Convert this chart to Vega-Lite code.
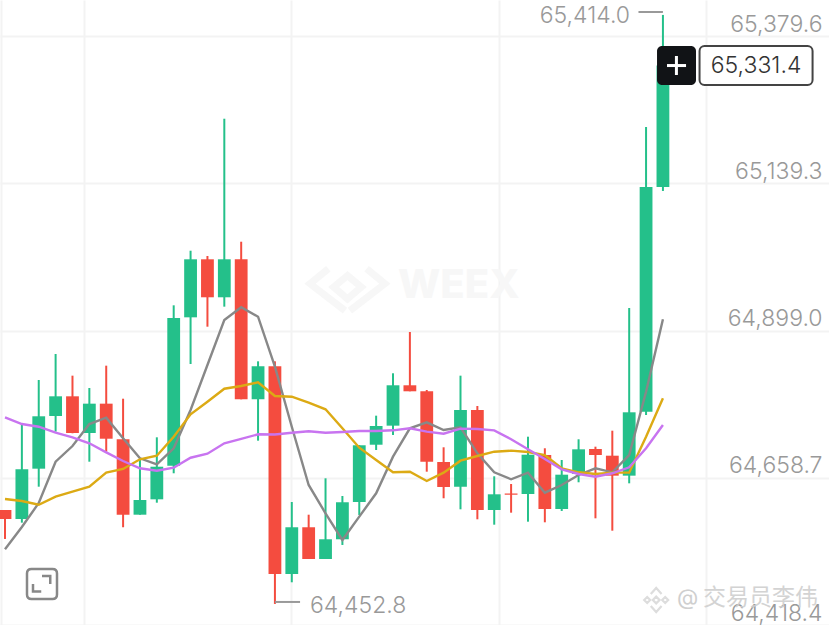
{"$schema":"https://vega.github.io/schema/vega-lite/v6.json","width":829,"height":625,"autosize":{"type":"none"},"padding":0,"background":"#ffffff","config":{"view":{"stroke":null}},
"resolve":{"axis":{"y":"independent"}},
"data":{"values":[
{"i":0,"side":"down","open":64606.1,"high":64606.1,"low":64558.8,"close":64591.4,"ma5":64541.9,"ma10":64624.0,"ma30":64757.4},
{"i":1,"side":"up","open":64591.4,"high":64746.4,"low":64585.4,"close":64672.5,"ma5":64578.3,"ma10":64620.8,"ma30":64746.4},
{"i":2,"side":"up","open":64673.5,"high":64818.2,"low":64644.1,"close":64759.0,"ma5":64617.5,"ma10":64614.7,"ma30":64742.0},
{"i":3,"side":"up","open":64759.5,"high":64860.7,"low":64733.9,"close":64791.6,"ma5":64684.9,"ma10":64627.8,"ma30":64732.2},
{"i":4,"side":"down","open":64791.6,"high":64825.3,"low":64731.3,"close":64731.7,"ma5":64710.5,"ma10":64635.9,"ma30":64724.7},
{"i":5,"side":"up","open":64731.7,"high":64805.2,"low":64684.9,"close":64779.6,"ma5":64746.4,"ma10":64644.1,"ma30":64714.9},
{"i":6,"side":"down","open":64779.6,"high":64841.6,"low":64701.2,"close":64722.4,"ma5":64756.7,"ma10":64667.0,"ma30":64700.2},
{"i":7,"side":"down","open":64721.5,"high":64787.7,"low":64577.9,"close":64598.4,"ma5":64723.1,"ma10":64673.0,"ma30":64686.0},
{"i":8,"side":"up","open":64598.4,"high":64687.7,"low":64598.4,"close":64622.4,"ma5":64690.5,"ma10":64688.8,"ma30":64674.1},
{"i":9,"side":"up","open":64623.5,"high":64724.7,"low":64618.0,"close":64676.7,"ma5":64680.7,"ma10":64694.7,"ma30":64670.2},
{"i":10,"side":"up","open":64678.4,"high":64940.1,"low":64666.0,"close":64919.4,"ma5":64706.8,"ma10":64725.7,"ma30":64675.1},
{"i":11,"side":"up","open":64920.5,"high":65029.2,"low":64844.3,"close":65015.2,"ma5":64769.3,"ma10":64762.3,"ma30":64691.4},
{"i":12,"side":"down","open":65015.2,"high":65020.6,"low":64905.2,"close":64953.2,"ma5":64842.7,"ma10":64782.8,"ma30":64698.0},
{"i":13,"side":"up","open":64953.2,"high":65244.6,"low":64937.9,"close":65015.2,"ma5":64916.1,"ma10":64804.0,"ma30":64714.9},
{"i":14,"side":"down","open":65015.2,"high":65043.9,"low":64786.7,"close":64786.7,"ma5":64936.9,"ma10":64808.4,"ma30":64722.0},
{"i":15,"side":"up","open":64786.7,"high":64848.7,"low":64719.2,"close":64840.6,"ma5":64921.5,"ma10":64814.5,"ma30":64729.6},
{"i":16,"side":"down","open":64840.6,"high":64848.7,"low":64452.8,"close":64501.6,"ma5":64839.9,"ma10":64792.1,"ma30":64729.3},
{"i":17,"side":"up","open":64501.6,"high":64619.1,"low":64488.1,"close":64577.9,"ma5":64742.0,"ma10":64791.0,"ma30":64732.2},
{"i":18,"side":"down","open":64577.9,"high":64598.4,"low":64526.1,"close":64526.1,"ma5":64646.9,"ma10":64781.2,"ma30":64734.5},
{"i":19,"side":"up","open":64526.1,"high":64657.8,"low":64526.1,"close":64558.3,"ma5":64600.7,"ma10":64770.4,"ma30":64732.2},
{"i":20,"side":"up","open":64558.3,"high":64628.9,"low":64549.0,"close":64618.7,"ma5":64557.1,"ma10":64739.4,"ma30":64733.4},
{"i":21,"side":"up","open":64619.1,"high":64711.7,"low":64597.9,"close":64711.7,"ma5":64595.2,"ma10":64707.7,"ma30":64735.0},
{"i":22,"side":"up","open":64712.6,"high":64760.0,"low":64704.0,"close":64743.2,"ma5":64633.3,"ma10":64687.7,"ma30":64735.0},
{"i":23,"side":"up","open":64743.7,"high":64829.2,"low":64728.5,"close":64809.6,"ma5":64693.1,"ma10":64667.6,"ma30":64736.1},
{"i":24,"side":"down","open":64809.6,"high":64896.6,"low":64799.8,"close":64799.8,"ma5":64739.4,"ma10":64668.6,"ma30":64739.4},
{"i":25,"side":"down","open":64799.8,"high":64801.9,"low":64668.6,"close":64684.9,"ma5":64749.2,"ma10":64653.4,"ma30":64733.9},
{"i":26,"side":"down","open":64684.4,"high":64708.4,"low":64625.2,"close":64643.6,"ma5":64736.6,"ma10":64667.0,"ma30":64730.6},
{"i":27,"side":"up","open":64644.1,"high":64825.3,"low":64607.2,"close":64769.3,"ma5":64741.0,"ma10":64686.5,"ma30":64738.8},
{"i":28,"side":"down","open":64769.3,"high":64775.8,"low":64590.9,"close":64606.1,"ma5":64698.6,"ma10":64694.2,"ma30":64738.3},
{"i":29,"side":"up","open":64606.1,"high":64661.1,"low":64582.1,"close":64631.7,"ma5":64667.6,"ma10":64701.2,"ma30":64736.1},
{"i":30,"side":"down","open":64633.0,"high":64648.5,"low":64601.7,"close":64631.0,"ma5":64656.2,"ma10":64702.9,"ma30":64721.5},
{"i":31,"side":"up","open":64632.2,"high":64725.7,"low":64587.0,"close":64696.3,"ma5":64667.0,"ma10":64700.7,"ma30":64705.1},
{"i":32,"side":"down","open":64695.8,"high":64706.8,"low":64586.0,"close":64607.7,"ma5":64634.3,"ma10":64695.8,"ma30":64689.3},
{"i":33,"side":"up","open":64607.7,"high":64687.7,"low":64604.5,"close":64663.7,"ma5":64646.9,"ma10":64674.1,"ma30":64672.5},
{"i":34,"side":"up","open":64664.8,"high":64721.5,"low":64651.3,"close":64705.1,"ma5":64663.2,"ma10":64667.6,"ma30":64664.8},
{"i":35,"side":"down","open":64705.6,"high":64709.4,"low":64592.5,"close":64695.8,"ma5":64674.1,"ma10":64664.8,"ma30":64660.4},
{"i":36,"side":"down","open":64694.7,"high":64735.5,"low":64572.3,"close":64662.1,"ma5":64667.6,"ma10":64667.0,"ma30":64666.0},
{"i":37,"side":"up","open":64662.1,"high":64935.7,"low":64649.6,"close":64765.5,"ma5":64695.8,"ma10":64667.0,"ma30":64675.8},
{"i":38,"side":"up","open":64766.5,"high":65231.1,"low":64761.1,"close":65133.2,"ma5":64799.1,"ma10":64725.7,"ma30":64706.8},
{"i":39,"side":"up","open":65133.2,"high":65414.0,"low":65126.7,"close":65331.4,"ma5":64917.3,"ma10":64788.4,"ma30":64744.8}
]},
"encoding":{
"x":{"field":"i","type":"quantitative","title":null,"scale":{"domain":[-0.2964,48.844],"nice":false,"zero":false,"padding":0},"axis":{"orient":"top","values":[-0.237,4.68,16.95,29.28,41.55],"labels":false,"ticks":false,"domain":false,"title":null,"grid":true,"gridColor":"#f3f3f3","gridWidth":2,"zindex":0}},
"y":{"field":"p","type":"quantitative","title":null,"scale":{"domain":[64418.4,65438.35],"nice":false,"zero":false},"axis":null}
},
"layer":[
{"data":{"values":[{"i":26.9,"p":64971.6,"label":"WEEX"}]},"mark":{"type":"text","font":"Inter","fontWeight":800,"fontSize":40,"color":"#f7f7f7","align":"center","baseline":"middle"},"encoding":{"y":{"field":"p","type":"quantitative","title":null,"scale":{"domain":[64418.4,65438.35],"nice":false,"zero":false},"axis":{"orient":"right","values":[65379.6,65139.3,64899.0,64658.7,64418.4],"format":",.1f","labels":true,"ticks":false,"domain":false,"title":null,"grid":true,"gridColor":"#f3f3f3","gridWidth":2,"labelFont":"Inter","labelFontSize":23,"labelFontWeight":300,"labelColor":"#999999","labelAlign":"right","labelBaseline":"middle","labelPadding":-7,"labelOffset":-12,"labelOverlap":false,"labelBound":false,"labelFlush":false,"zindex":0}},"text":{"field":"label"}}},
{"data":{"values":[{"i":20.3,"p":64966.0}]},"mark":{"type":"point","filled":false,"strokeWidth":7,"color":"#f7f7f7","opacity":1,"size":6626,"shape":"M-.47,-.51L-.92,-.14L-.06,.52M.47,-.51L.92,-.14L.06,.52M0,-.34L-.34,-.06L0,.23L.34,-.06Z"}},
{"mark":{"type":"rule","strokeWidth":2},"encoding":{"y":{"field":"low","type":"quantitative","title":null,"scale":{"domain":[64418.4,65438.35],"nice":false,"zero":false},"axis":null},"y2":{"field":"high"},"color":{"field":"side","type":"nominal","legend":null,"scale":{"domain":["up","down"],"range":["#24c08a","#f44c3f"]}}}},
{"mark":{"type":"bar","size":12.8},"encoding":{"y":{"field":"open","type":"quantitative","title":null,"scale":{"domain":[64418.4,65438.35],"nice":false,"zero":false},"axis":null},"y2":{"field":"close"},"color":{"field":"side","type":"nominal","legend":null,"scale":{"domain":["up","down"],"range":["#24c08a","#f44c3f"]}}}},
{"mark":{"type":"line","color":"#888888","strokeWidth":2.4},"encoding":{"y":{"field":"ma5","type":"quantitative","title":null,"scale":{"domain":[64418.4,65438.35],"nice":false,"zero":false},"axis":null}}},
{"mark":{"type":"line","color":"#dcaa14","strokeWidth":2.4},"encoding":{"y":{"field":"ma10","type":"quantitative","title":null,"scale":{"domain":[64418.4,65438.35],"nice":false,"zero":false},"axis":null}}},
{"mark":{"type":"line","color":"#c874f0","strokeWidth":2.4},"encoding":{"y":{"field":"ma30","type":"quantitative","title":null,"scale":{"domain":[64418.4,65438.35],"nice":false,"zero":false},"axis":null}}},
{"data":{"values":[{"i":37.55,"i2":39,"p":65418.8},{"i":16,"i2":17.49,"p":64456.0}]},"mark":{"type":"rule","color":"#999999","strokeWidth":2},"encoding":{"x2":{"field":"i2"}}},
{"data":{"values":[{"i":37.05,"p":65412.2,"label":"65,414.0"}]},"mark":{"type":"text","font":"Inter","fontSize":23,"fontWeight":300,"color":"#999999","align":"right","baseline":"middle"},"encoding":{"text":{"field":"label"}}},
{"data":{"values":[{"i":18.08,"p":64449.4,"label":"64,452.8"}]},"mark":{"type":"text","font":"Inter","fontSize":23,"fontWeight":300,"color":"#999999","align":"left","baseline":"middle"},"encoding":{"text":{"field":"label"}}},
{"data":{"values":[{"i":38.65,"i2":40.96,"p":65363.3,"p2":65299.6}]},"mark":{"type":"rect","color":"#111316","cornerRadius":5},"encoding":{"x2":{"field":"i2"},"y2":{"field":"p2"}}},
{"data":{"values":[{"i":39.24,"i2":40.37,"p":65331.4}]},"mark":{"type":"rule","color":"#ffffff","strokeWidth":3},"encoding":{"x2":{"field":"i2"}}},
{"data":{"values":[{"i":39.8,"p":65347,"p2":65316}]},"mark":{"type":"rule","color":"#ffffff","strokeWidth":3},"encoding":{"y2":{"field":"p2"}}},
{"data":{"values":[{"i":41.17,"i2":47.87,"p":65363.3,"p2":65299.6}]},"mark":{"type":"rect","fill":"#ffffff","stroke":"#444444","strokeWidth":2,"cornerRadius":5},"encoding":{"x2":{"field":"i2"},"y2":{"field":"p2"}}},
{"data":{"values":[{"i":44.52,"p":65331.4,"label":"65,331.4"}]},"mark":{"type":"text","font":"Inter","fontSize":23,"fontWeight":300,"color":"#333333","align":"center","baseline":"middle"},"encoding":{"text":{"field":"label"}}},
{"data":{"values":[{"i":2.193,"p":64485.3}]},"mark":{"type":"point","filled":false,"opacity":1,"strokeWidth":2.5,"color":"#888888","size":900,"shape":"M-.7,-1H.7Q1,-1 1,-.7V.7Q1,1 .7,1H-.7Q-1,1 -1,.7V-.7Q-1,-1 -.7,-1ZM0,-.53H.55V0M-.6,0V.5H-.05"}},
{"data":{"values":[{"i":38.6,"p":64459.2}]},"mark":{"type":"point","filled":false,"opacity":1,"strokeWidth":2.2,"color":"#dddddd","size":576,"shape":"M-.45,-.5L0,-1L.45,-.5M-.45,.5L0,1L.45,.5M-1,0L-.75,-.25L-.5,0L-.75,.25ZM1,0L.75,-.25L.5,0L.75,.25ZM0,-.28L.28,0L0,.28L-.28,0Z"}},
{"data":{"values":[{"i":39.83,"p":64462.5,"label":"@"}]},"mark":{"type":"text","font":"Inter","fontSize":22,"color":"#cfcfcf","align":"left","baseline":"middle"},"encoding":{"text":{"field":"label"}}},
{"data":{"values":[{"i":41.38,"p":64462.5,"label":"交易员李伟"}]},"mark":{"type":"text","font":"Noto Sans CJK SC","fontSize":23,"color":"#cfcfcf","opacity":0.9,"align":"left","baseline":"middle"},"encoding":{"text":{"field":"label"}}}
]}
